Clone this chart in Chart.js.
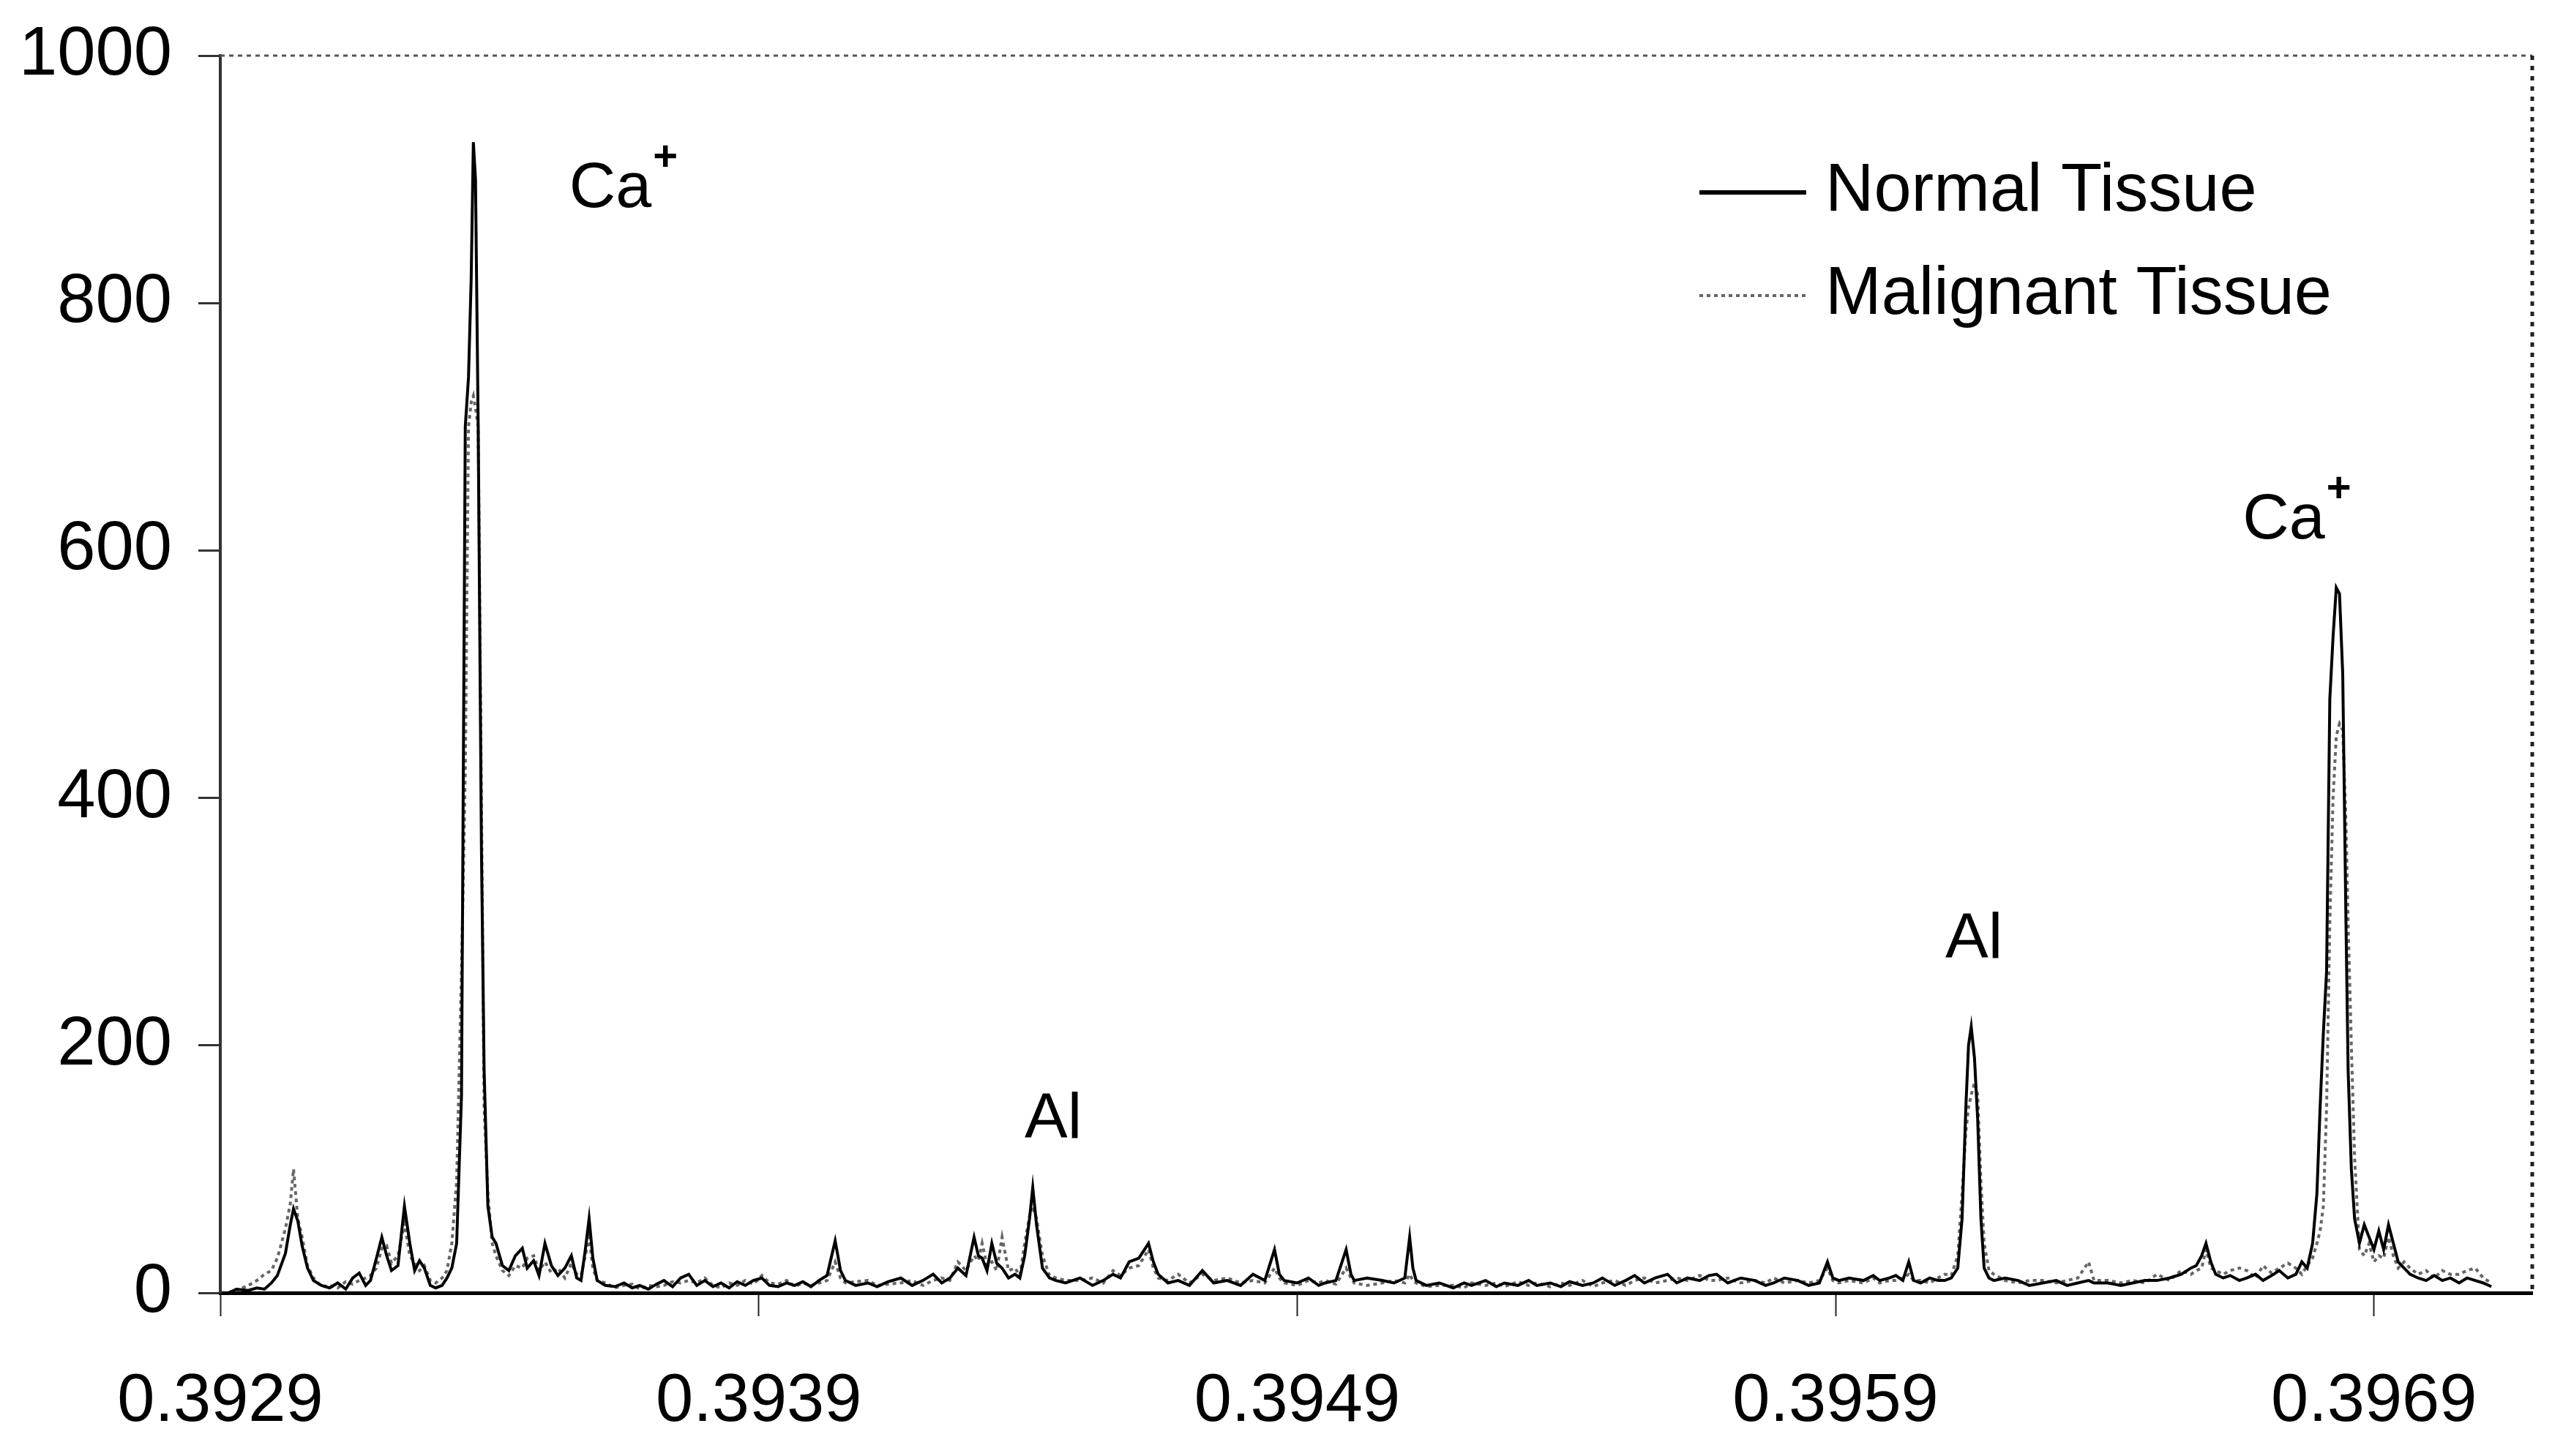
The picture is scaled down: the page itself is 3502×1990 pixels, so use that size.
<!DOCTYPE html>
<html>
<head>
<meta charset="utf-8">
<script src="https://cdn.jsdelivr.net/npm/chart.js@4/dist/chart.umd.min.js"></script>
<style>
    html, body { margin: 0; padding: 0; background: #fff; }
    canvas { display: block; }
</style>
</head>
<body>
<canvas id="spectrumChart" width="3502" height="1990" style="width:3502px;height:1990px"></canvas>
<script>
// LIBS spectrum: normal vs malignant tissue (Ca+ and Al lines)

// wavelength (um)
const wavelength = [
    0.392915, 0.392930, 0.392952, 0.392968, 0.392982, 0.392995, 0.393006, 0.393021, 0.393030, 0.393036,
    0.393044, 0.393052, 0.393062, 0.393073, 0.393088, 0.393103, 0.393118, 0.393133, 0.393146, 0.393158,
    0.393170, 0.393179, 0.393190, 0.393200, 0.393209, 0.393218, 0.393230, 0.393242, 0.393252, 0.393261,
    0.393270, 0.393279, 0.393290, 0.393300, 0.393312, 0.393321, 0.393330, 0.393339, 0.393348, 0.393355,
    0.393361, 0.393366, 0.393370, 0.393374, 0.393379, 0.393385, 0.393390, 0.393397, 0.393405, 0.393412,
    0.393424, 0.393436, 0.393448, 0.393461, 0.393470, 0.393482, 0.393492, 0.393503, 0.393515, 0.393527,
    0.393540, 0.393552, 0.393562, 0.393570, 0.393578, 0.393585, 0.393592, 0.393600, 0.393615, 0.393633,
    0.393650, 0.393665, 0.393679, 0.393695, 0.393710, 0.393724, 0.393740, 0.393755, 0.393770, 0.393785,
    0.393800, 0.393815, 0.393830, 0.393845, 0.393860, 0.393875, 0.393890, 0.393906, 0.393920, 0.393936,
    0.393952, 0.393967, 0.393982, 0.393997, 0.394012, 0.394027, 0.394042, 0.394052, 0.394061, 0.394080,
    0.394103, 0.394120, 0.394140, 0.394164, 0.394185, 0.394205, 0.394224, 0.394240, 0.394255, 0.394270,
    0.394285, 0.394300, 0.394308, 0.394315, 0.394324, 0.394333, 0.394342, 0.394352, 0.394364, 0.394376,
    0.394385, 0.394394, 0.394403, 0.394409, 0.394416, 0.394427, 0.394440, 0.394452, 0.394470, 0.394497,
    0.394520, 0.394540, 0.394558, 0.394572, 0.394588, 0.394606, 0.394624, 0.394633, 0.394642, 0.394660,
    0.394679, 0.394700, 0.394724, 0.394745, 0.394770, 0.394795, 0.394818, 0.394840, 0.394858, 0.394867,
    0.394876, 0.394900, 0.394921, 0.394940, 0.394952, 0.394972, 0.394991, 0.395000, 0.395006, 0.395030,
    0.395058, 0.395080, 0.395100, 0.395109, 0.395115, 0.395121, 0.395140, 0.395164, 0.395190, 0.395210,
    0.395224, 0.395250, 0.395270, 0.395285, 0.395310, 0.395330, 0.395345, 0.395370, 0.395390, 0.395406,
    0.395430, 0.395450, 0.395467, 0.395490, 0.395510, 0.395527, 0.395545, 0.395565, 0.395588, 0.395605,
    0.395625, 0.395648, 0.395665, 0.395679, 0.395700, 0.395724, 0.395750, 0.395770, 0.395785, 0.395805,
    0.395830, 0.395850, 0.395870, 0.395885, 0.395895, 0.395906, 0.395925, 0.395952, 0.395970, 0.395982,
    0.396000, 0.396012, 0.396025, 0.396036, 0.396045, 0.396058, 0.396075, 0.396090, 0.396103, 0.396115,
    0.396127, 0.396135, 0.396142, 0.396147, 0.396152, 0.396158, 0.396164, 0.396170, 0.396176, 0.396185,
    0.396194, 0.396215, 0.396239, 0.396260, 0.396285, 0.396310, 0.396330, 0.396350, 0.396370, 0.396380,
    0.396406, 0.396430, 0.396452, 0.396475, 0.396497, 0.396520, 0.396542, 0.396560, 0.396570, 0.396580,
    0.396588, 0.396597, 0.396606, 0.396620, 0.396633, 0.396650, 0.396664, 0.396680, 0.396694, 0.396710,
    0.396724, 0.396740, 0.396755, 0.396766, 0.396776, 0.396786, 0.396794, 0.396800, 0.396806, 0.396812,
    0.396818, 0.396824, 0.396830, 0.396836, 0.396842, 0.396848, 0.396852, 0.396858, 0.396864, 0.396873,
    0.396882, 0.396891, 0.396900, 0.396909, 0.396918, 0.396927, 0.396936, 0.396945, 0.396956, 0.396967,
    0.396982, 0.396997, 0.397012, 0.397027, 0.397042, 0.397058, 0.397073, 0.397088, 0.397103, 0.397118
];

const normalTissue = [
    0, 3, 2, 4, 3, 8, 14, 32, 55, 68,
    58, 38, 20, 10, 6, 4, 8, 3, 12, 16,
    6, 10, 28, 45, 30, 18, 22, 70, 40, 18,
    26, 20, 6, 4, 6, 12, 20, 40, 160, 700,
    740, 820, 930, 900, 700, 360, 180, 70, 45, 40,
    22, 18, 30, 36, 20, 26, 14, 40, 22, 14,
    20, 30, 12, 10, 35, 60, 28, 10, 6, 5,
    8, 4, 6, 3, 7, 10, 5, 12, 15, 6,
    10, 5, 8, 4, 9, 6, 10, 12, 6, 5,
    8, 6, 9, 5, 10, 14, 42, 18, 10, 6,
    8, 5, 9, 12, 6, 10, 15, 8, 12, 20,
    14, 45, 30, 28, 18, 40, 24, 20, 12, 15,
    12, 30, 60, 85, 55, 20, 12, 10, 8, 12,
    6, 10, 15, 12, 25, 28, 40, 25, 15, 8,
    10, 6, 18, 8, 10, 6, 15, 10, 35, 15,
    10, 8, 12, 6, 8, 10, 35, 15, 10, 12,
    10, 8, 12, 45, 20, 10, 6, 8, 4, 8,
    6, 10, 5, 8, 6, 10, 6, 8, 5, 9,
    6, 8, 12, 6, 10, 14, 8, 12, 15, 8,
    12, 10, 14, 15, 8, 12, 10, 6, 8, 12,
    10, 6, 8, 25, 12, 10, 12, 10, 14, 10,
    12, 14, 10, 25, 10, 8, 12, 10, 10, 12,
    20, 60, 150, 200, 215, 190, 140, 60, 20, 12,
    10, 12, 10, 6, 8, 10, 6, 8, 10, 8,
    8, 6, 8, 10, 10, 12, 15, 20, 22, 30,
    40, 25, 15, 12, 14, 10, 12, 15, 10, 14,
    18, 12, 15, 25, 20, 40, 80, 150, 210, 260,
    480, 530, 570, 565, 500, 300, 180, 100, 60, 40,
    55, 45, 35, 50, 35, 55, 40, 25, 20, 15,
    12, 10, 14, 10, 12, 8, 12, 10, 8, 5
];

const malignantTissue = [
    0, 2, 6, 10, 15, 18, 28, 52, 72, 100,
    60, 45, 22, 12, 5, 6, 4, 9, 7, 10,
    12, 14, 20, 36, 38, 24, 30, 56, 30, 24,
    18, 22, 10, 8, 12, 18, 40, 90, 260, 420,
    700, 720, 725, 715, 700, 400, 150, 80, 40, 30,
    18, 14, 22, 20, 28, 30, 18, 25, 16, 20,
    12, 24, 15, 14, 30, 45, 20, 10, 8, 4,
    6, 7, 3, 6, 5, 6, 9, 8, 10, 8,
    12, 6, 4, 8, 6, 10, 7, 14, 8, 7,
    10, 5, 8, 6, 8, 10, 25, 12, 8, 9,
    10, 6, 7, 8, 10, 6, 10, 12, 10, 25,
    18, 30, 26, 40, 22, 25, 18, 45, 18, 20,
    14, 40, 62, 70, 60, 30, 14, 12, 10, 10,
    12, 8, 18, 14, 20, 22, 35, 20, 12, 10,
    15, 8, 15, 10, 12, 8, 10, 8, 20, 12,
    8, 6, 10, 8, 10, 7, 20, 12, 8, 6,
    8, 10, 8, 15, 10, 8, 5, 6, 6, 4,
    8, 6, 8, 5, 9, 6, 8, 5, 8, 6,
    10, 5, 8, 10, 6, 10, 12, 8, 10, 12,
    10, 14, 10, 10, 12, 8, 10, 8, 12, 8,
    10, 8, 10, 20, 10, 8, 10, 8, 12, 8,
    10, 10, 12, 15, 10, 10, 8, 12, 15, 14,
    30, 80, 130, 150, 160, 170, 160, 90, 40, 18,
    15, 10, 8, 10, 10, 8, 10, 12, 25, 10,
    10, 8, 10, 8, 15, 10, 18, 15, 18, 20,
    35, 20, 18, 15, 18, 20, 18, 12, 22, 16,
    20, 24, 20, 15, 22, 28, 40, 50, 70, 150,
    300, 400, 450, 460, 455, 380, 300, 200, 110, 35,
    30, 40, 25, 30, 28, 45, 30, 20, 25, 20,
    15, 18, 12, 18, 15, 15, 18, 20, 12, 8
];

// axis ticks
const xTickValues = [0.3929, 0.3939, 0.3949, 0.3959, 0.3969];
const xMin = 0.3929;
const xMax = 0.397194;
const yTickStep = 200;
const yMax = 1000;

// peak labels (anchored at left edge of text, vertical middle)
const peakLabelText = ['Ca', 'Al', 'Al', 'Ca'];
const peakLabelSup = ['+', '', '', '+'];
const peakLabelX = [0.393548, 0.394394, 0.396104, 0.396656];
const peakLabelY = [892, 140, 285, 624];

const FONT_FAMILY = '"Liberation Sans", Arial, Helvetica, sans-serif';

// dotted top and right frame
const framePlugin = {
    id: 'frame',
    afterDraw(chart) {
        const { ctx, chartArea: a } = chart;
        ctx.save();
        ctx.strokeStyle = '#555';
        ctx.lineWidth = 3;
        ctx.setLineDash([6, 6]);
        ctx.beginPath();
        ctx.moveTo(a.left, a.top);
        ctx.lineTo(a.right, a.top);
        ctx.stroke();
        ctx.strokeStyle = '#222';
        ctx.lineWidth = 5;
        ctx.setLineDash([6, 8]);
        ctx.beginPath();
        ctx.moveTo(a.right, a.top);
        ctx.lineTo(a.right, a.bottom);
        ctx.stroke();
        ctx.restore();
    }
};

// Ca+ / Al labels
const peakLabelPlugin = {
    id: 'peakLabels',
    afterDatasetsDraw(chart) {
        const { ctx, scales: { x, y } } = chart;
        ctx.save();
        ctx.fillStyle = '#000';
        ctx.textBaseline = 'middle';
        ctx.textAlign = 'left';
        peakLabelText.forEach((txt, i) => {
            const px = x.getPixelForValue(peakLabelX[i]);
            const py = y.getPixelForValue(peakLabelY[i]);
            ctx.font = '88px ' + FONT_FAMILY;
            ctx.fillText(txt, px, py);
            if (peakLabelSup[i]) {
                const w = ctx.measureText(txt).width;
                ctx.font = 'bold 58px ' + FONT_FAMILY;
                ctx.fillText(peakLabelSup[i], px + w + 2, py - 42);
            }
        });
        ctx.restore();
    }
};

// legend inside the plot, top right
const insideLegendPlugin = {
    id: 'insideLegend',
    afterDraw(chart) {
        const { ctx } = chart;
        const lineX0 = 2322, lineX1 = 2468, textX = 2494;
        const rowY = [263, 404];
        ctx.save();
        chart.data.datasets.forEach((ds, i) => {
            ctx.strokeStyle = ds.borderColor;
            ctx.lineWidth = i === 0 ? 6 : 4;
            ctx.setLineDash(ds.borderDash || []);
            ctx.beginPath();
            ctx.moveTo(lineX0, rowY[i]);
            ctx.lineTo(lineX1, rowY[i]);
            ctx.stroke();
            ctx.setLineDash([]);
            ctx.fillStyle = '#000';
            ctx.font = '92px ' + FONT_FAMILY;
            ctx.textBaseline = 'middle';
            ctx.textAlign = 'left';
            ctx.fillText(ds.label, textX, rowY[i]);
        });
        ctx.restore();
    }
};

const normalPoints = wavelength.map((w, i) => ({ x: w, y: normalTissue[i] }));
const malignantPoints = wavelength.map((w, i) => ({ x: w, y: malignantTissue[i] }));

const canvas = document.getElementById('spectrumChart');
const chart = new Chart(canvas.getContext('2d'), {
    type: 'line',
    data: {
        datasets: [{
            label: 'Normal Tissue',
            data: normalPoints,
            borderColor: '#000',
            borderWidth: 4,
            pointRadius: 0,
            tension: 0
        }, {
            label: 'Malignant Tissue',
            data: malignantPoints,
            borderColor: '#666',
            borderWidth: 4,
            borderDash: [5, 5],
            pointRadius: 0,
            tension: 0
        }]
    },
    options: {
        responsive: false,
        animation: false,
        devicePixelRatio: 1,
        layout: {
            padding: { top: 76, right: 42, left: 0, bottom: 0 }
        },
        plugins: {
            legend: { display: false },
            tooltip: { enabled: false }
        },
        scales: {
            x: {
                type: 'linear',
                min: xMin,
                max: xMax,
                afterBuildTicks: (scale) => {
                    scale.ticks = xTickValues.map(v => ({ value: v }));
                },
                afterFit: (scale) => {
                    scale.height = 223;
                    scale.paddingLeft = 0;
                    scale.paddingRight = 0;
                },
                ticks: {
                    autoSkip: false,
                    maxRotation: 0,
                    padding: 62,
                    color: '#000',
                    font: { family: FONT_FAMILY, size: 92 },
                    callback: (value) => Number(value).toFixed(4)
                },
                grid: {
                    drawOnChartArea: false,
                    drawTicks: true,
                    tickLength: 32,
                    tickWidth: 2,
                    tickColor: '#222'
                },
                border: { display: true, color: '#000', width: 5 }
            },
            y: {
                min: 0,
                max: yMax,
                afterFit: (scale) => {
                    scale.width = 301;
                    scale.paddingTop = 0;
                    scale.paddingBottom = 0;
                },
                ticks: {
                    stepSize: yTickStep,
                    padding: 36,
                    color: '#000',
                    font: { family: FONT_FAMILY, size: 94 },
                    callback: (value) => String(value)
                },
                grid: {
                    drawOnChartArea: false,
                    drawTicks: true,
                    tickLength: 30,
                    tickWidth: 3,
                    tickColor: '#333'
                },
                border: { display: true, color: '#333', width: 4 }
            }
        }
    },
    plugins: [framePlugin, peakLabelPlugin, insideLegendPlugin]
});
</script>
</body>
</html>
